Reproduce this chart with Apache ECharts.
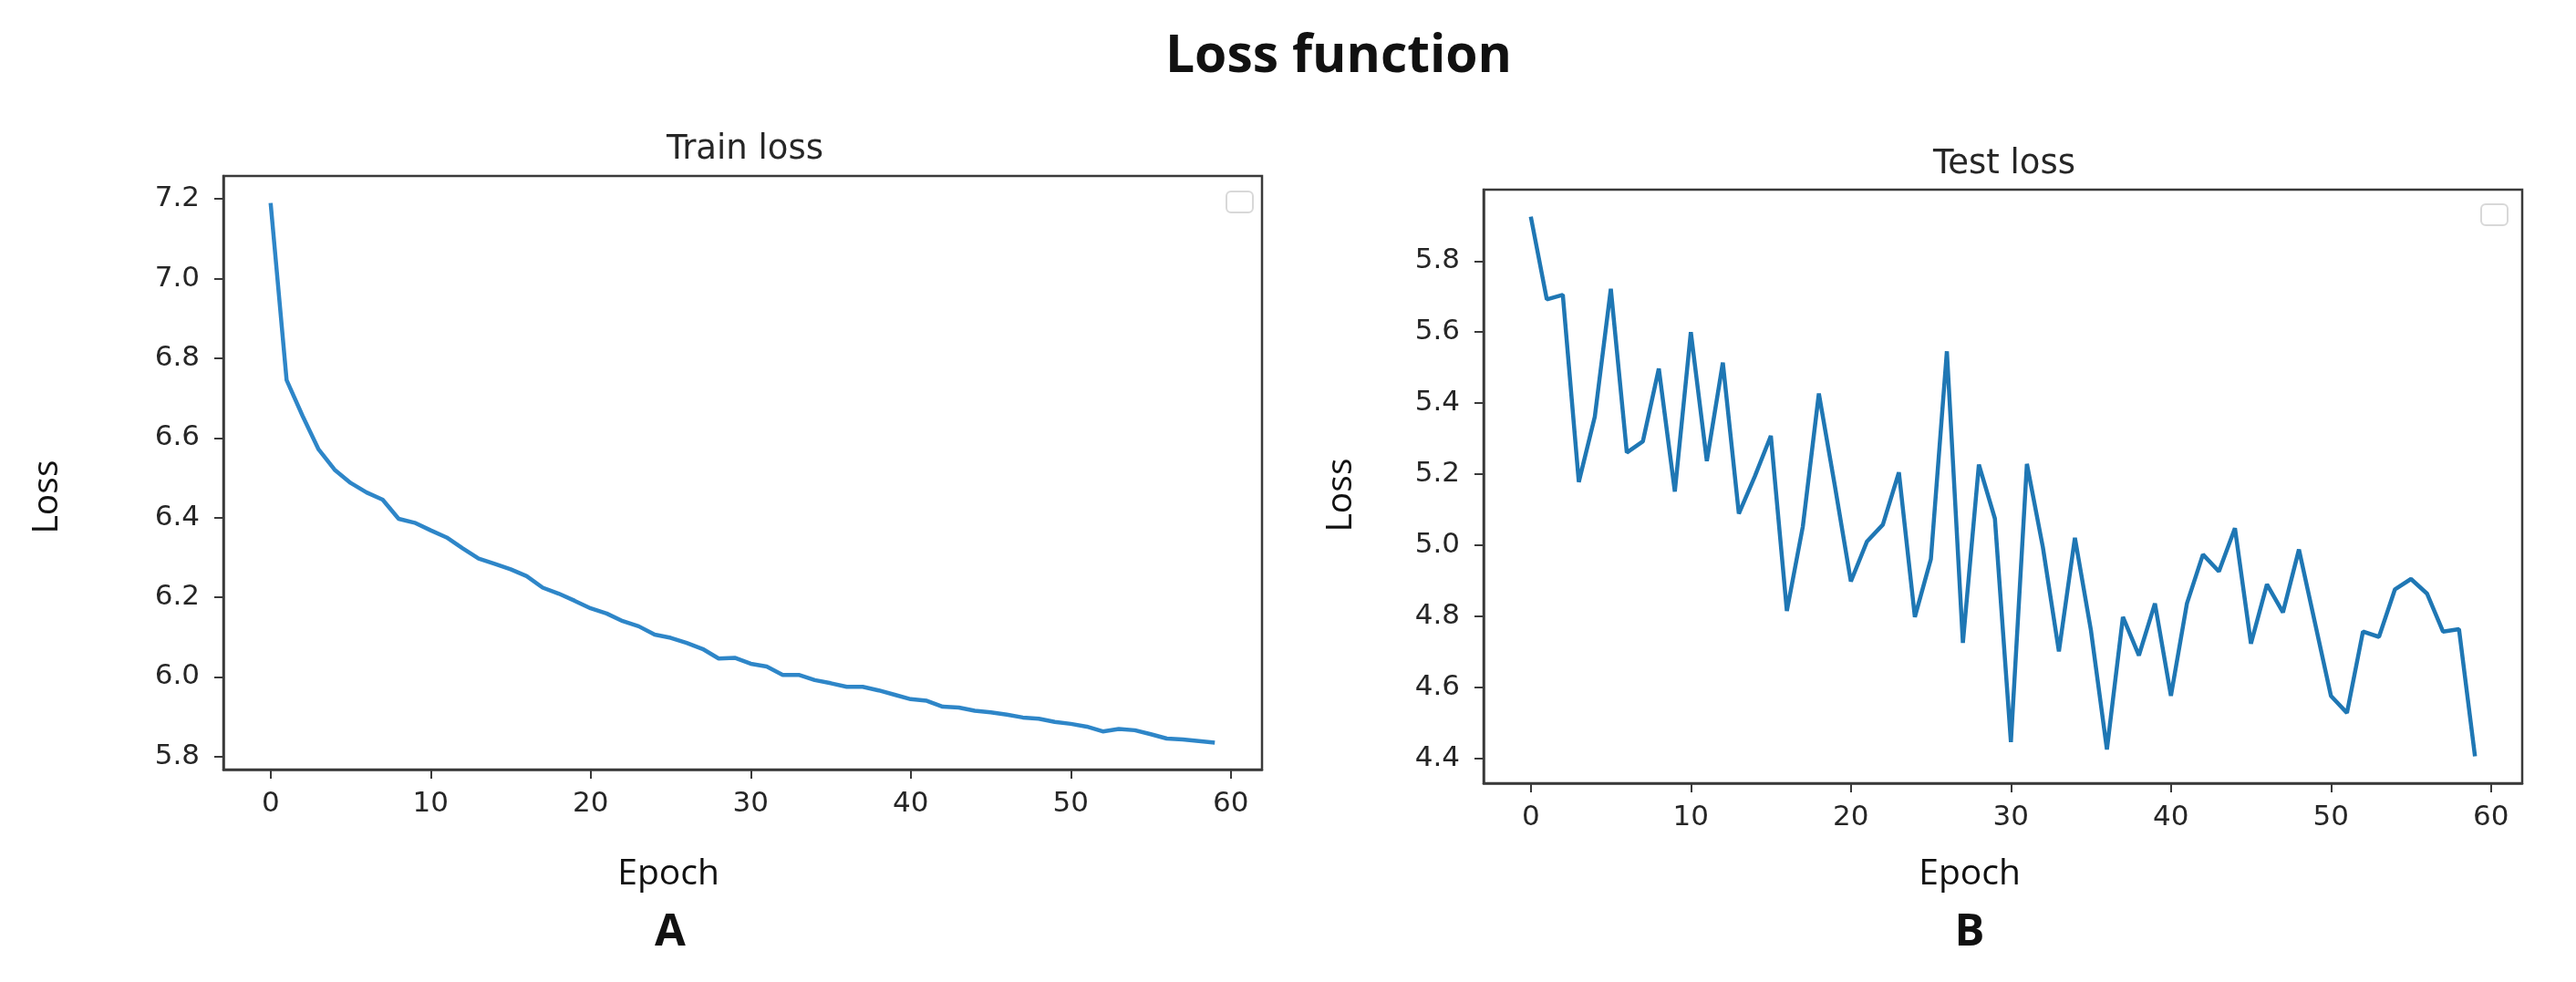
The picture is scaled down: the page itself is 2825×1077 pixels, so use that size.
<!DOCTYPE html>
<html>
<head>
<meta charset="utf-8">
<script src="https://cdn.jsdelivr.net/npm/echarts@6/dist/echarts.min.js"></script>
<style>
html,body{margin:0;padding:0;background:#fff;}
#c{width:2825px;height:1077px;}
</style>
</head>
<body>
<div id="c"></div>
<script>
// ---- data ----
const trainLoss = [7.190, 6.745, 6.655, 6.571, 6.520, 6.487, 6.463, 6.445, 6.397, 6.387,
  6.368, 6.350, 6.323, 6.297, 6.284, 6.270, 6.253, 6.224, 6.209, 6.191,
  6.172, 6.159, 6.140, 6.127, 6.106, 6.098, 6.085, 6.070, 6.046, 6.048,
  6.033, 6.026, 6.005, 6.005, 5.992, 5.984, 5.975, 5.975, 5.966, 5.955,
  5.944, 5.940, 5.925, 5.923, 5.915, 5.911, 5.905, 5.898, 5.895, 5.887,
  5.882, 5.875, 5.863, 5.869, 5.866, 5.856, 5.845, 5.843, 5.839, 5.835];
const testLoss = [5.925, 5.692, 5.705, 5.178, 5.362, 5.722, 5.261, 5.292, 5.497, 5.151,
  5.600, 5.237, 5.514, 5.089, 5.194, 5.308, 4.815, 5.053, 5.427, 5.167,
  4.898, 5.010, 5.058, 5.205, 4.798, 4.961, 5.546, 4.725, 5.227, 5.075,
  4.446, 5.229, 4.994, 4.701, 5.021, 4.761, 4.425, 4.798, 4.690, 4.836,
  4.576, 4.836, 4.974, 4.926, 5.048, 4.723, 4.890, 4.811, 4.988, 4.782,
  4.576, 4.528, 4.757, 4.742, 4.876, 4.905, 4.864, 4.757, 4.764, 4.406];
const epochs = trainLoss.map((_, i) => i);
const xTicks = [0, 10, 20, 30, 40, 50, 60];
const trainTicks = [5.8, 6.0, 6.2, 6.4, 6.6, 6.8, 7.0, 7.2];
const testTicks = [4.4, 4.6, 4.8, 5.0, 5.2, 5.4, 5.6, 5.8];

// matplotlib-like 5% margins
function range(arr) {
  const mn = Math.min(...arr), mx = Math.max(...arr), m = (mx - mn) * 0.05;
  return [mn - m, mx + m];
}
const xr = range(epochs);
const tr = range(trainLoss);
const ter = range(testLoss);

const frame = '#3a3a3a';
const tickFont = {fontFamily: 'DejaVu Sans', fontSize: 31, color: '#262626'};

function xAx(gi) {
  return {
    type: 'value', gridIndex: gi, min: xr[0], max: xr[1],
    splitLine: {show: false},
    axisLine: {show: true, onZero: false, lineStyle: {color: frame, width: 2.5}},
    axisTick: {show: true, length: 10, lineStyle: {color: frame, width: 2}, customValues: xTicks},
    axisLabel: Object.assign({margin: 22, customValues: xTicks, formatter: v => String(v)}, tickFont)
  };
}
function yAx(gi, r, ticks) {
  return {
    type: 'value', gridIndex: gi, min: r[0], max: r[1],
    splitLine: {show: false},
    axisLine: {show: true, onZero: false, lineStyle: {color: frame, width: 2.5}},
    axisTick: {show: true, length: 10, lineStyle: {color: frame, width: 2}, customValues: ticks},
    axisLabel: Object.assign({margin: 26, customValues: ticks, formatter: v => v.toFixed(1)}, tickFont)
  };
}

const labelFont = 'Open Sans';
function txt(x, y, s, size, weight, rot) {
  const el = {
    type: 'text', x: x, y: y,
    style: {text: s, fill: '#111', font: (weight || 'normal') + ' ' + size + 'px "' + labelFont + '"',
      textAlign: 'center', textVerticalAlign: 'middle'}
  };
  if (rot) { el.rotation = rot; }
  return el;
}
function subTitle(x, y, s) {
  return {type: 'text', x: x, y: y,
    style: {text: s, fill: '#262626', font: 'normal 37px "DejaVu Sans"', textAlign: 'center', textVerticalAlign: 'middle'}};
}
function legendBox(x, y) {
  return {type: 'rect', shape: {x: x, y: y, width: 29, height: 23, r: 5},
    style: {fill: '#fff', stroke: '#d8d8d8', lineWidth: 2}, z: 10};
}

const chart = echarts.init(document.getElementById('c'), null, {renderer: 'canvas'});
chart.setOption({
  backgroundColor: '#ffffff',
  animation: false,
  grid: [
    {left: 245, top: 193, width: 1139, height: 651, show: true, borderColor: frame, borderWidth: 2.5, backgroundColor: '#fff'},
    {left: 1627, top: 208, width: 1139, height: 651, show: true, borderColor: frame, borderWidth: 2.5, backgroundColor: '#fff'}
  ],
  xAxis: [xAx(0), xAx(1)],
  yAxis: [yAx(0, tr, trainTicks), yAx(1, ter, testTicks)],
  series: [
    {type: 'line', xAxisIndex: 0, yAxisIndex: 0, showSymbol: false, smooth: false,
      lineStyle: {color: '#2e86c8', width: 4.5}, data: epochs.map((e, i) => [e, trainLoss[i]])},
    {type: 'line', xAxisIndex: 1, yAxisIndex: 1, showSymbol: false, smooth: false,
      lineStyle: {color: '#1f77b4', width: 4.5}, data: epochs.map((e, i) => [e, testLoss[i]])}
  ],
  graphic: [
    txt(1468, 63, 'Loss function', 57, 'bold'),
    subTitle(817, 164, 'Train loss'),
    subTitle(2198, 180, 'Test loss'),
    txt(733, 959, 'Epoch', 39),
    txt(2160, 959, 'Epoch', 39),
    txt(735, 1023, 'A', 49, 'bold'),
    txt(2160, 1023, 'B', 49, 'bold'),
    txt(52, 545, 'Loss', 39, 'normal', Math.PI / 2),
    txt(1471, 543, 'Loss', 39, 'normal', Math.PI / 2),
    legendBox(1345, 210),
    legendBox(2721, 224)
  ]
});
</script>
</body>
</html>
